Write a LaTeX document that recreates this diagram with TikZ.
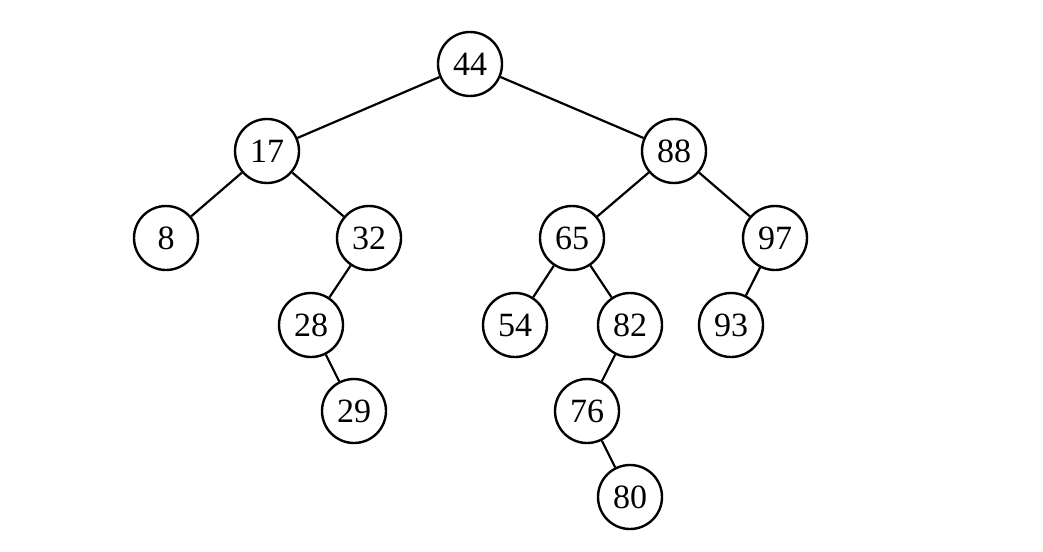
\documentclass[tikz,border=0pt]{standalone}
\usepackage{fontspec}
\setmainfont{Liberation Serif}
\begin{document}
\begin{tikzpicture}[x=1pt,y=-1pt,
    key/.style={circle,draw,line width=2.4pt,minimum size=64pt,inner sep=0pt,
        font=\fontsize{34}{34}\selectfont},
    edge/.style={line width=2.2pt}]
    \useasboundingbox (0,0) rectangle (1043,551);
    % level 0 and 1
    \node[key] (n44) at (470,64) {44};
    \node[key] (n17) at (267,151) {17};
    \node[key] (n88) at (674,151) {88};
    % level 2
    \node[key] (n8)  at (166,238) {8};
    \node[key] (n32) at (369,238) {32};
    \node[key] (n65) at (572,238) {65};
    \node[key] (n97) at (775,238) {97};
    % level 3
    \node[key] (n28) at (311,325) {28};
    \node[key] (n54) at (515,325) {54};
    \node[key] (n82) at (630,325) {82};
    \node[key] (n93) at (731,325) {93};
    % level 4 and 5
    \node[key] (n29) at (354,411) {29};
    \node[key] (n76) at (587,411) {76};
    \node[key] (n80) at (630,497) {80};
    \foreach \a/\b in {n44/n17,n44/n88,n17/n8,n17/n32,n88/n65,n88/n97,
        n32/n28,n65/n54,n65/n82,n97/n93,n28/n29,n82/n76,n76/n80}
        \draw[edge] (\a) -- (\b);
\end{tikzpicture}
\end{document}
